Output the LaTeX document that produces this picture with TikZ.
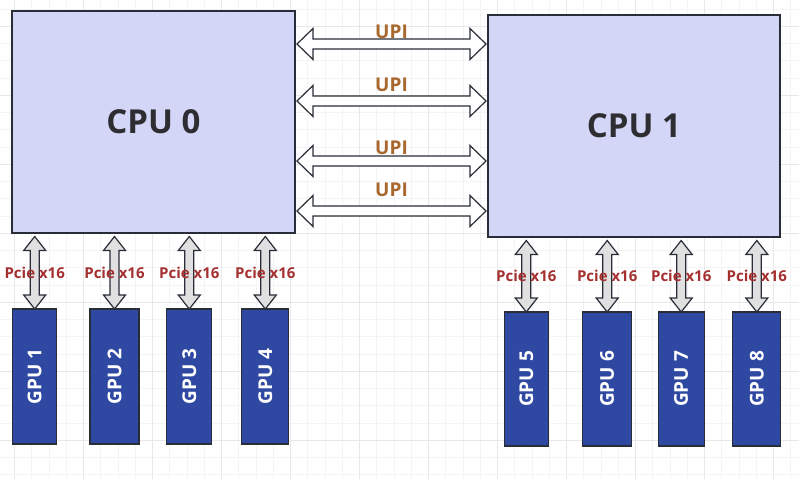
\documentclass[tikz,border=0pt]{standalone}
\usepackage{fontspec}
\setmainfont{Open Sans}
\usetikzlibrary{calc}
\definecolor{cpufill}{RGB}{211,214,247}
\definecolor{gpufill}{RGB}{47,73,163}
\definecolor{edgedark}{RGB}{40,45,55}
\definecolor{arrowgray}{RGB}{224,224,224}
\definecolor{upitext}{RGB}{168,104,46}
\definecolor{pcietext}{RGB}{165,48,48}
\definecolor{cputext}{RGB}{45,45,50}
\definecolor{gridminor}{RGB}{244,244,244}
\definecolor{gridmajor}{RGB}{232,232,232}

% double block arrows between two tips
\newcommand{\upiarrow}[2]{% left tip, right tip
  \draw[upiline] let \p1=(#1), \p2=(#2), \n1={\x2-\x1-32pt} in
    (\p1) -- ++(16,15.5) -- ++(0,-10.5) -- ++(\n1,0) -- ++(0,10.5) -- (\p2)
    -- ++(-16,-15.5) -- ++(0,10.5) -- ++(-\n1,0) -- ++(0,-10.5) -- cycle;}
\newcommand{\pciearrow}[2]{% top tip, bottom tip
  \draw[pcieline] let \p1=(#1), \p2=(#2), \n1={\y1-\y2-28pt} in
    (\p1) -- ++(11,14) -- ++(-6.5,0) -- ++(0pt,-\n1) -- ++(6.5,0) -- (\p2)
    -- ++(-11,-14) -- ++(6.5,0) -- ++(0pt,\n1) -- ++(-6.5,0) -- cycle;}

\begin{document}
\begin{tikzpicture}[x=1pt, y=-1pt,
  cpubox/.style={draw=edgedark, line width=1.3pt, fill=cpufill, minimum height=222pt,
    inner sep=0pt, outer sep=0pt, text=cputext, font=\fontsize{33}{40}\selectfont\bfseries},
  gpubox/.style={draw=edgedark, line width=1.3pt, fill=gpufill, inner sep=0pt, outer sep=0pt,
    text=white, font=\fontsize{19}{22}\selectfont\bfseries},
  upiline/.style={draw=edgedark, line width=1.2pt, fill=white, line join=miter},
  pcieline/.style={draw=edgedark, line width=1.2pt, fill=arrowgray, line join=miter},
  upilabel/.style={text=upitext, font=\fontsize{19}{22}\selectfont\bfseries},
  pcielabel/.style={text=pcietext, font=\fontsize{15}{18}\selectfont\bfseries}]

% Background grid
\useasboundingbox (0,0) rectangle (799,479);
\fill[white] (0,0) rectangle (799,479);
\foreach \k in {0,...,46}
  \draw[gridminor, line width=1pt] ({14.5+17.25*\k},0) -- ({14.5+17.25*\k},479);
\foreach \k in {0,...,27}
  \draw[gridminor, line width=1pt] (0,{9.05+17.25*\k}) -- (799,{9.05+17.25*\k});
\foreach \k in {0,...,11}
  \draw[gridmajor, line width=1.3pt] ({14.5+69*\k},0) -- ({14.5+69*\k},479);
\foreach \k in {0,...,6}
  \draw[gridmajor, line width=1.3pt] (0,{26.3+69*\k}) -- (799,{26.3+69*\k});

% CPUs
\node[cpubox, minimum width=283pt] (cpu0) at (153.5,122) {CPU 0};
\node[cpubox, minimum width=292pt] (cpu1) at (634,126) {CPU 1};

% GPUs
\foreach \i/\x/\w in {1/34.7/44, 2/114.5/49, 3/189.3/45, 4/265.3/47}
  \node[gpubox, minimum width=\w pt, minimum height=135pt] (gpu\i) at (\x,376.5)
    {\rotatebox{90}{GPU \i}};
\foreach \i/\x/\w in {5/526.3/44, 6/607.2/49, 7/681.2/46, 8/756.8/48}
  \node[gpubox, minimum width=\w pt, minimum height=134pt] (gpu\i) at (\x,379)
    {\rotatebox{90}{GPU \i}};

% UPI links
\foreach \k/\y/\ly in {1/44/32, 2/101/85, 3/161/148, 4/211/190} {
  \coordinate (upiL\k) at ($(cpu0.east |- 0,\y)+(2,0)$);
  \coordinate (upiR\k) at ($(cpu1.west |- 0,\y)+(-2,0)$);
  \upiarrow{upiL\k}{upiR\k}
  \node[upilabel] (upi\k) at ($(upiL\k)!0.5!(upiR\k) + (0,\ly-\y)$) {UPI};
}

% PCIe links
\foreach \i/\c in {1/cpu0, 2/cpu0, 3/cpu0, 4/cpu0, 5/cpu1, 6/cpu1, 7/cpu1, 8/cpu1} {
  \coordinate (pcieT\i) at ($(gpu\i.north |- \c.south)+(0,3.5)$);
  \pciearrow{pcieT\i}{gpu\i.north}
  \node[pcielabel] (pcie\i) at ($(pcieT\i)!0.5!(gpu\i.north)$) {Pcie x16};
}

\end{tikzpicture}
\end{document}
